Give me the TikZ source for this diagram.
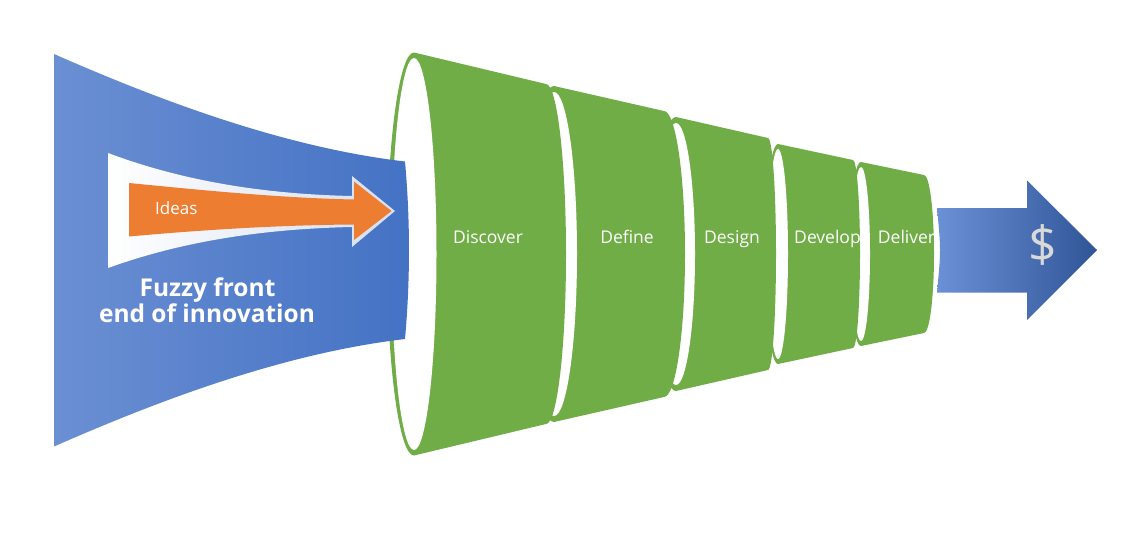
\documentclass[tikz,border=0pt]{standalone}
\usepackage{fontspec}
\setmainfont{Open Sans}
\definecolor{seggreen}{HTML}{70AD47}
\definecolor{funnelL}{HTML}{6B8FD3}
\definecolor{funnelR}{HTML}{4472C4}
\definecolor{ideaorange}{HTML}{ED7D31}
\definecolor{glowR}{HTML}{D6DEF0}
\definecolor{dollarL}{HTML}{6C90D5}
\definecolor{dollarR}{HTML}{2F5597}
\definecolor{dollarsign}{HTML}{D9D9D9}
% #1 xc, #2 H, #3 R (left outer rx), #4 xr, #5 h, #6 b (right bulge), #7 inner rx, #8 inner ry
\newcommand{\funnelseg}[8]{%
  \fill[seggreen] (#1,{254-#2}) -- (#4,{254-#5})
    .. controls ({#4+0.5523*#6},{254-#5}) and ({#4+#6},{254-0.5523*#5}) .. ({#4+#6},254)
    .. controls ({#4+#6},{254+0.5523*#5}) and ({#4+0.5523*#6},{254+#5}) .. (#4,{254+#5})
    -- (#1,{254+#2})
    .. controls ({#1-0.5523*#3},{254+#2}) and ({#1-#3},{254+0.5523*#2}) .. ({#1-#3},254)
    .. controls ({#1-#3},{254-0.5523*#2}) and ({#1-0.5523*#3},{254-#2}) .. cycle;
  \fill[white] (#1,254) ellipse [x radius=#7, y radius=#8];
}
\tikzset{
  stagelabel/.style={text=white, font=\fontsize{17.5}{20}\selectfont, anchor=base, inner sep=0pt},
  fuzzylabel/.style={text=white, font=\fontsize{24.5}{27}\selectfont\bfseries, anchor=base, inner sep=0pt},
}
\begin{document}
\begin{tikzpicture}[x=1pt,y=-1pt]
\useasboundingbox (0,0) rectangle (1138,544);
% dollar arrow
\shade[left color=dollarL, right color=dollarR]
  (937,208) -- (1027,208) -- (1027,180.5) -- (1097,250) -- (1027,320) -- (1027,292.5)
  -- (937,292.5) .. controls (941,250) .. (937,208) -- cycle;
% funnel segments, right to left
\funnelseg{861}{92}{12}{924}{79}{10}{9}{87}
\funnelseg{778}{110}{13}{853}{94}{7}{10}{105}
\funnelseg{676}{137}{22}{768}{116}{8}{19}{131}
\funnelseg{554}{168}{26}{664}{143}{21}{23}{162}
\funnelseg{414}{201.5}{27}{546}{170}{20}{22.5}{196}
% fuzzy front end funnel
\shade[left color=funnelL, right color=funnelR]
  (54,54) .. controls (170,105) and (290,148) .. (405,161.5)
  .. controls (410.3,220) and (410.3,280) .. (405,339)
  .. controls (290,352.5) and (170,395.5) .. (54,446.5) -- cycle;
% glow behind ideas arrow
\shade[left color=white, right color=glowR]
  (108,153) .. controls (180,180) and (260,194) .. (352,196) -- (352,176) -- (395,211)
  -- (352,247) -- (352,227) .. controls (260,229) and (180,242) .. (108,268) -- cycle;
% ideas arrow
\fill[ideaorange]
  (129,183) .. controls (200,190) and (280,198) .. (354,199.5) -- (354,181.5) -- (391.5,211)
  -- (354,240) -- (354,224.5) .. controls (280,225) and (200,230) .. (129,236.5) -- cycle;
% labels
\node[text=white, font=\fontsize{17}{20}\selectfont, anchor=base west, inner sep=0pt] (ideas) at (155,214) {Ideas};
\node[fuzzylabel] (fuzzy1) at (207.5,296) {Fuzzy front};
\node[fuzzylabel] (fuzzy2) at (207,322.7) {end of innovation};
\node[stagelabel] (discover) at (488,243) {Discover};
\node[stagelabel] (define) at (627,243) {Define};
\node[stagelabel] (design) at (732,243) {Design};
\node[stagelabel] (develop) at (827.5,243) {Develop};
\node[stagelabel] (deliver) at (906.5,243) {Deliver};
\node[text=dollarsign, font=\fontsize{50}{50}\selectfont, inner sep=0pt] (dollar) at (1043,245) {\$};
\end{tikzpicture}
\end{document}
